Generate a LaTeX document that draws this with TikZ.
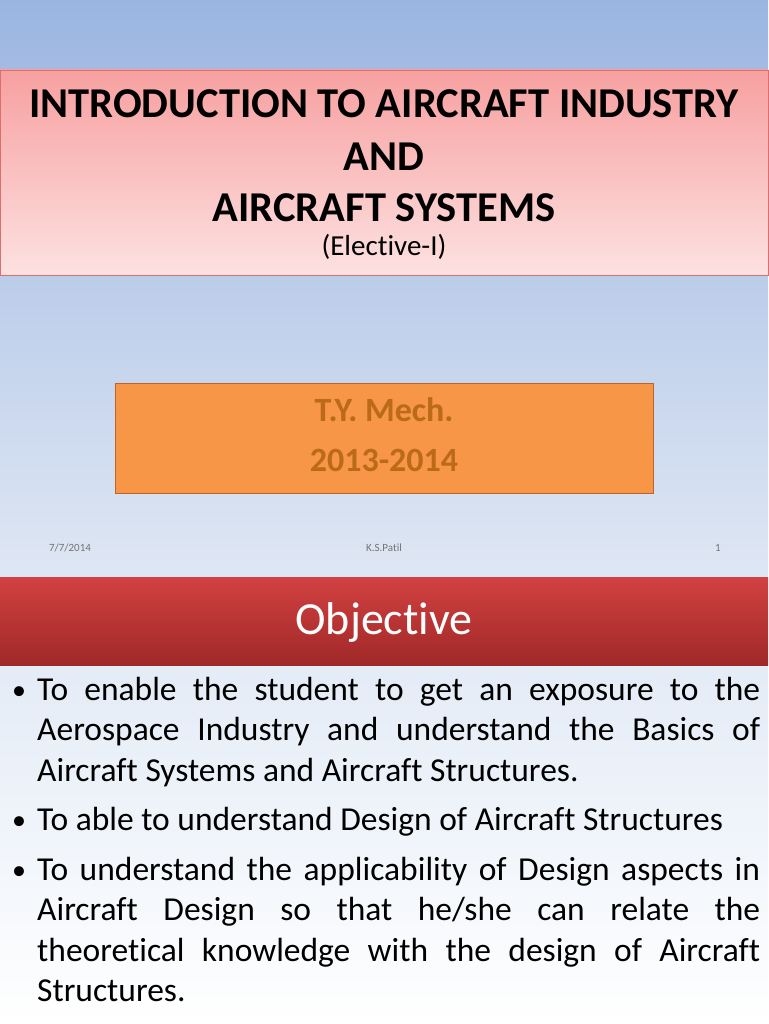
\documentclass[tikz,border=0pt]{standalone}
\usepackage{fontspec}
\setmainfont[Ligatures=NoCommon]{Carlito}
\begin{document}
\begin{tikzpicture}[x=1pt,y=-1pt,
  ttl/.style={font=\fontsize{42.5}{46}\selectfont\bfseries,anchor=center},
  foot/.style={font=\fontsize{11}{13}\selectfont,text=black!55,anchor=center},
  orng/.style={font=\fontsize{34}{38}\selectfont\bfseries,text=orange!70!black!90,anchor=center},
  body/.style={anchor=north west,text width=723,align=justify,inner sep=0,font=\fontsize{33.5}{40.5}\selectfont}]
\useasboundingbox (0,0) rectangle (768,1024);
\shade[top color={rgb,255:red,155;green,181;blue,226},bottom color={rgb,255:red,222;green,230;blue,243}] (0,0) rectangle (768,566);
\shade[top color={rgb,255:red,247;green,160;blue,160},bottom color={rgb,255:red,253;green,225;blue,225},draw={rgb,255:red,220;green,110;blue,110}] (0,70) rectangle (768,275);
\node[ttl] (t1) at (384,104) {INTRODUCTION TO AIRCRAFT INDUSTRY};
\node[ttl] (t2) at (384,157) {AND};
\node[ttl] (t3) at (384,208) {AIRCRAFT SYSTEMS};
\node[font=\fontsize{29}{32}\selectfont,anchor=center] (t4) at (384,247) {(Elective-I)};
\draw[fill={rgb,255:red,247;green,150;blue,70},draw={rgb,255:red,190;green,100;blue,40}] (115,383) rectangle (653,493);
\node[orng] (m1) at (384,410) {T.Y. Mech.};
\node[orng] (m2) at (384,460) {2013-2014};
\node[foot] (f1) at (70,548) {7/7/2014};
\node[foot] (f2) at (384,548) {K.S.Patil};
\node[foot] (f3) at (718,548) {1};
\shade[top color={rgb,255:red,220;green,230;blue,244},bottom color=white] (0,566) rectangle (768,1024);
\shade[top color={rgb,255:red,210;green,65;blue,65},bottom color={rgb,255:red,160;green,40;blue,40}] (0,577) rectangle (768,665);
\node[font=\fontsize{46}{50}\selectfont,text=white,anchor=center] (obj) at (384,622) {Objective};
\node[body] (b1) at (37,677) {To enable the student to get an exposure to the\linebreak Aerospace Industry and understand the Basics of\linebreak Aircraft Systems and Aircraft Structures.};
\node[body] (b2) at (37,807) {To able to understand Design of Aircraft Structures};
\node[body] (b3) at (37,857) {To understand the applicability of Design aspects in\linebreak Aircraft Design so that he/she can relate the\linebreak theoretical knowledge with the design of Aircraft\linebreak Structures.};
\foreach \yy in {693,823,873} \node[font=\fontsize{28}{32}\selectfont,anchor=center] at (19,\yy) {•};
\end{tikzpicture}
\end{document}
